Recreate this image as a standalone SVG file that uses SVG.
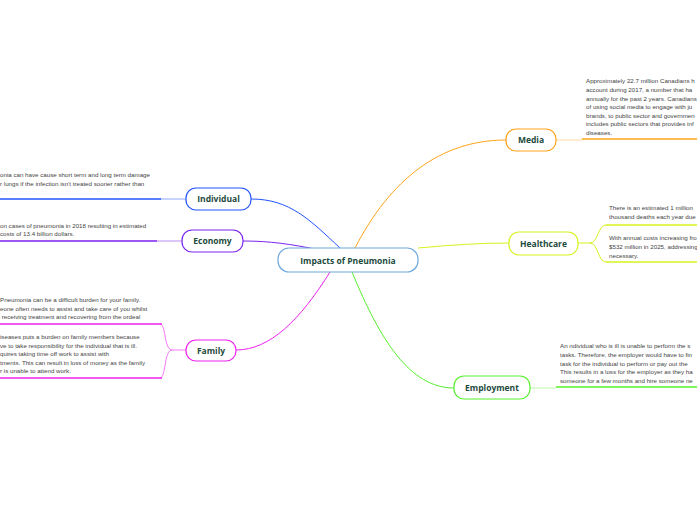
<svg xmlns="http://www.w3.org/2000/svg" width="697" height="520" viewBox="0 0 697 520">
<style>
.n{fill:#fff;stroke-width:1.2}
.nt{font-family:"Open Sans","Liberation Sans",sans-serif;font-weight:bold;font-size:8.5px;fill:#1d4a3c;text-anchor:middle}
.t{font-family:"Liberation Sans",Arial,sans-serif;font-size:6.2px;fill:#444}
.c{fill:none;stroke-width:1}
.u{fill:none;stroke-width:1.6}
</style>
<rect width="697" height="520" fill="#fff"/>
<g id="connectors">
<path class="c" stroke="#ffa31a" d="M355,248 C390,180 440,140 506,140"/>
<path class="c" stroke="#ffa31a" stroke-opacity="0.4" d="M556,140 H582"/>
<path class="u" stroke="#ffa31a" d="M582,139 H697"/>
<path class="c" stroke="#d7f21c" d="M418,248 C450,245 480,243 509,243"/>
<path class="c" stroke="#d7f21c" d="M578,243 H590 C598,243 598,225 606,225 M590,243 C598,243 598,262 606,262"/>
<path class="u" stroke="#d7f21c" d="M606,225 H697 M606,262 H697"/>
<path class="c" stroke="#55f02a" d="M352,272 C380,340 410,388 454,388"/>
<path class="c" stroke="#55f02a" stroke-opacity="0.4" d="M530,388 H556"/>
<path class="u" stroke="#55f02a" d="M556,387 H697"/>
<path class="c" stroke="#2255ff" d="M340,248 C310,220 290,199 251,199"/>
<path class="c" stroke="#2255ff" stroke-opacity="0.5" d="M186,199 H160"/>
<path class="u" stroke="#2255ff" d="M0,199 H161"/>
<path class="c" stroke="#7a22ee" d="M320,250 C290,244 270,241 243,241"/>
<path class="c" stroke="#7a22ee" stroke-opacity="0.5" d="M182,241 H157"/>
<path class="u" stroke="#7a22ee" d="M0,241 H157"/>
<path class="c" stroke="#ee22ee" d="M330,272 C300,320 270,350 236,350"/>
<path class="c" stroke="#ee22ee" stroke-opacity="0.6" d="M186,350 H172 C164,350 166,324 160,324 M172,350 C164,350 166,378 160,378"/>
<path class="u" stroke="#ee22ee" d="M0,324 H162 M0,378 H162"/>
</g>
<g id="center"><rect class="n" x="278" y="248" width="140" height="24" rx="11" stroke="#6fa8dc"/><text class="nt" x="348" y="263.5" font-size="9.5px">Impacts of Pneumonia</text></g>
<g id="media"><rect class="n" x="506" y="129" width="50" height="22" rx="10" stroke="#ffa31a"/><text class="nt" x="531" y="143">Media</text>
<text class="t"><tspan x="586" y="83">Approximately 22.7 million Canadians h</tspan><tspan x="586" y="92">account during 2017, a number that ha</tspan><tspan x="586" y="101">annually for the past 2 years. Canadians</tspan><tspan x="586" y="109">of using social media to engage with ju</tspan><tspan x="586" y="118">brands, to public sector and governmen</tspan><tspan x="586" y="126">includes public sectors that provides inf</tspan><tspan x="586" y="135">diseases.</tspan></text></g>
<g id="healthcare"><rect class="n" x="509" y="232" width="69" height="23" rx="10" stroke="#d7f21c"/><text class="nt" x="543.5" y="246.5">Healthcare</text>
<text class="t"><tspan x="609" y="210">There is an estimated 1 million</tspan><tspan x="609" y="219">thousand deaths each year due</tspan><tspan x="609" y="240">With annual costs increasing fro</tspan><tspan x="609" y="249">$532 million in 2025, addressing</tspan><tspan x="609" y="258">necessary.</tspan></text></g>
<g id="employment"><rect class="n" x="454" y="376" width="76" height="23" rx="10" stroke="#55f02a"/><text class="nt" x="492" y="390.5">Employment</text>
<text class="t"><tspan x="560" y="348">An ndividual who is ill is unable to perform the s</tspan><tspan x="560" y="357">tasks. Therefore, the employer would have to fin</tspan><tspan x="560" y="366">task for the individual to perform or pay out the </tspan><tspan x="560" y="374">This results in a loss for the employer as they ha</tspan><tspan x="560" y="383">someone for a few months and hire someone ne</tspan></text></g>
<g id="individual"><rect class="n" x="186" y="188" width="65" height="22" rx="10" stroke="#2255ff"/><text class="nt" x="218.5" y="202">Individual</text>
<text class="t"><tspan x="0" y="177">onia can have cause short term and long term damage</tspan><tspan x="0" y="186">r lungs if the infection isn't treated sooner rather than</tspan></text></g>
<g id="economy"><rect class="n" x="182" y="230" width="61" height="22" rx="10" stroke="#7a22ee"/><text class="nt" x="212.5" y="244">Economy</text>
<text class="t"><tspan x="0" y="228">on cases of pneumonia in 2018 resulting in estimated</tspan><tspan x="0" y="236">costs of 13.4 billion dollars.</tspan></text></g>
<g id="family"><rect class="n" x="186" y="340" width="50" height="21" rx="10" stroke="#ee22ee"/><text class="nt" x="211" y="354">Family</text>
<text class="t"><tspan x="0" y="302">  Pneumonia can be a difficult burden for your family.</tspan><tspan x="0" y="311">eone often needs to assist and take care of you whilst</tspan><tspan x="0" y="319"> receiving treatment and recovering from the ordeal</tspan><tspan x="0" y="339">iseases puts a burden on family members because</tspan><tspan x="0" y="348">ve to take responsibility for the individual that is ill.</tspan><tspan x="0" y="356">quires taking time off work to assist with</tspan><tspan x="0" y="365">tments. This can result in loss of  money as the family</tspan><tspan x="0" y="373">r is unable to attend work.</tspan></text></g>
</svg>
